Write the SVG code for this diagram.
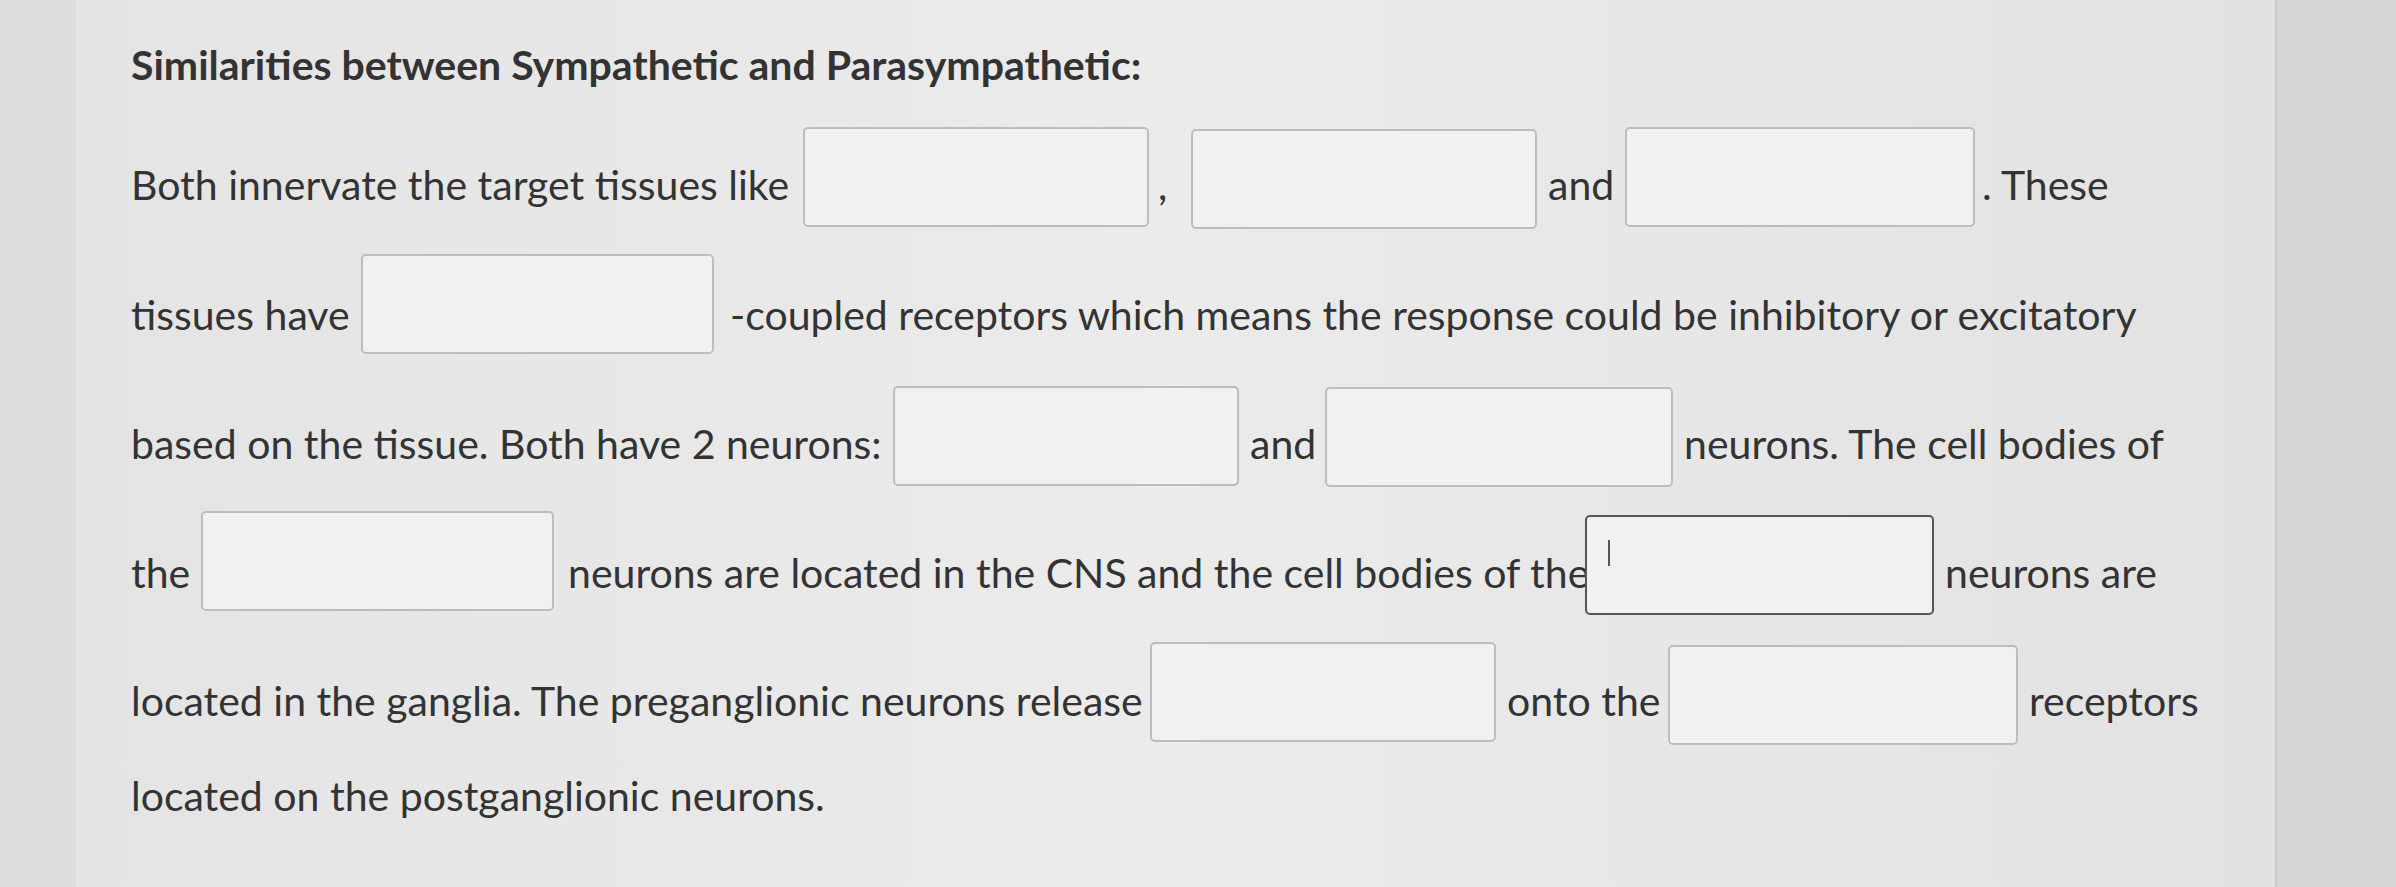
<svg xmlns="http://www.w3.org/2000/svg" width="2396" height="887" viewBox="0 0 2396 887">
<style>
text{font-family:Lato,"Liberation Sans",sans-serif;font-size:41px;fill:#333}
.t{font-weight:bold}
.b{fill:#f1f1f1;stroke:#bdbdbd;stroke-width:2}
</style>
<defs><linearGradient id="g" x1="0" y1="0" x2="1" y2="0"><stop offset="0" stop-color="#e4e4e4"/><stop offset="0.5" stop-color="#ebebeb"/><stop offset="1" stop-color="#e2e2e2"/></linearGradient></defs>
<rect width="2396" height="887" fill="#dcdcdc"/>
<rect x="76" y="0" width="2200" height="887" fill="url(#g)"/>
<rect x="2276" y="0" width="120" height="887" fill="#d6d6d6"/>
<line x1="2276" y1="0" x2="2276" y2="887" stroke="#c8c8c8" stroke-width="2"/>
<text class="t" x="131" y="80">Similarities between Sympathetic and Parasympathetic:</text>
<g id="line1">
<text x="131" y="200">Both innervate the target tissues like</text>
<rect class="b" x="804" y="128" width="344" height="98" rx="4"/>
<text x="1158" y="200">,</text>
<rect class="b" x="1192" y="130" width="344" height="98" rx="4"/>
<text x="1548" y="200">and</text>
<rect class="b" x="1626" y="128" width="348" height="98" rx="4"/>
<text x="1982" y="200">. These</text>
</g>
<g id="line2">
<text x="131" y="330">tissues have</text>
<rect class="b" x="362" y="255" width="351" height="98" rx="4"/>
<text x="730" y="330">-coupled receptors which means the response could be inhibitory or excitatory</text>
</g>
<g id="line3">
<text x="131" y="459">based on the tissue. Both have 2 neurons:</text>
<rect class="b" x="894" y="387" width="344" height="98" rx="4"/>
<text x="1250" y="459">and</text>
<rect class="b" x="1326" y="388" width="346" height="98" rx="4"/>
<text x="1684" y="459">neurons. The cell bodies of</text>
</g>
<g id="line4">
<text x="131" y="588">the</text>
<rect class="b" x="202" y="512" width="351" height="98" rx="4"/>
<text x="568" y="588">neurons are located in the CNS and the cell bodies of the</text>
<rect x="1586" y="516" width="347" height="98" rx="4" fill="#f1f1f1" stroke="#555" stroke-width="2"/>
<line x1="1609" y1="540" x2="1609" y2="566" stroke="#555" stroke-width="2"/>
<text x="1945" y="588">neurons are</text>
</g>
<g id="line5">
<text x="131" y="716">located in the ganglia. The preganglionic neurons release</text>
<rect class="b" x="1151" y="643" width="344" height="98" rx="4"/>
<text x="1507" y="716">onto the</text>
<rect class="b" x="1669" y="646" width="348" height="98" rx="4"/>
<text x="2029" y="716">receptors</text>
</g>
<text x="131" y="811">located on the postganglionic neurons.</text>
</svg>
